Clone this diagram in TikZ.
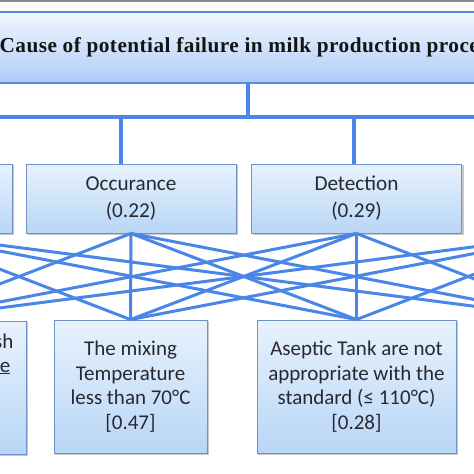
\documentclass[tikz,border=0pt]{standalone}
\usepackage{fontspec}
\setmainfont{Carlito}
\newfontfamily\titlefont[LetterSpace=2]{Liberation Serif}
\usetikzlibrary{backgrounds,calc}
\definecolor{conn}{RGB}{74,134,232}
\definecolor{boxtop}{RGB}{232,242,253}
\definecolor{boxbot}{RGB}{184,214,246}
\definecolor{boxedge}{RGB}{112,146,200}
\definecolor{titleedge}{RGB}{84,140,222}
\definecolor{txt}{RGB}{40,40,48}
\tikzset{
  connline/.style={draw=conn, line width=3.3pt},
  boxbase/.style={rectangle, draw=boxedge, line width=0.9pt, top color=boxtop, bottom color=boxbot,
    inner sep=0pt, align=center, text=txt},
  midbox/.style={boxbase, minimum width=210pt, minimum height=69pt,
    font=\fontsize{21.2}{27}\selectfont},
  lowbox/.style={boxbase, minimum height=133pt,
    font=\fontsize{21}{24.5}\selectfont},
  titlebox/.style={rectangle, draw=titleedge, line width=1.1pt, top color=boxtop!60!white, bottom color=boxbot!95!blue,
    inner sep=0pt, minimum width=500pt, minimum height=71pt, text=black!92,
    font=\titlefont\bfseries\fontsize{21.3}{24}\selectfont},
  shadowfill/.style={fill=black!22}
}
\begin{document}
\begin{tikzpicture}[x=1pt, y=-1pt]
\useasboundingbox (0,0) rectangle (474,474);
\clip (0,0) rectangle (474,474);
% title
\node[titlebox] (title) at (237,47.5) {};
\node[inner sep=0pt, text=black!92, font=\titlefont\bfseries\fontsize{21.3}{24}\selectfont] (titletext) at (248,47) {Cause of potential failure in milk production process};
% bus
\coordinate (bus-t) at (248,117);
\coordinate (bus-l) at (-20,117);
\coordinate (bus-r) at (500,117);
\coordinate (bus-o) at (121,117);
\coordinate (bus-d) at (354,117);
% middle row
\node[midbox, minimum width=20pt] (m1) at (2,198.5) {};
\coordinate (m1s) at (-94,233);
\node[midbox] (m2) at (131,198.5) {Occurance\\(0.22)};
\node[midbox] (m3) at (356.5,198.5) {Detection\\(0.29)};
\coordinate (m4s) at (581,233);
% bottom row
\node[lowbox, minimum width=36pt] (b1) at (8,387.5) {};
\coordinate (b1n) at (-94,320);
\node[lowbox, minimum width=153pt] (b2) at (130.5,386.5) {The mixing\\Temperature\\less than 70°C\\{[0.47]}};
\node[lowbox, minimum width=199pt] (b3) at (356.5,386.5) {Aseptic Tank are not\\appropriate with the\\standard (≤ 110°C)\\{[0.28]}};
\coordinate (b4n) at (581,320);
\node[anchor=base east, inner sep=0pt, text=txt, font=\fontsize{21}{24.5}\selectfont] (b1t1) at (13.5,348) {sh};
\node[anchor=base east, inner sep=0pt, text=txt, font=\fontsize{21}{24.5}\selectfont] (b1t2) at (10.5,372) {\underline{e}};
% background and shadows
\begin{scope}[on background layer]
  \fill[white] (0,0) rectangle (474,474);
  \foreach \n in {m1,m2,m3,b1,b2,b3}{
    \fill[shadowfill] ($(\n.north west)+(1.6,1.6)$) rectangle ($(\n.south east)+(1.6,1.6)$);
  }
\end{scope}
\fill[white] (459,310) rectangle (480,480);
\fill[black!45] (0,0) rectangle (474,2);
% top connectors
\draw[connline] (title.south -| bus-t) -- (bus-t);
\draw[connline] (bus-l) -- (bus-r);
\draw[connline] (bus-o) -- (bus-o |- m2.north);
\draw[connline] (bus-d) -- (bus-d |- m3.north);
% full bipartite connectors
\foreach \ma in {m1s,m2.south,m3.south,m4s}{
  \foreach \ba in {b1n,b2.north,b3.north,b4n}{
    \draw[connline, line width=3pt] (\ma) -- (\ba);
  }
}
\end{tikzpicture}
\end{document}
